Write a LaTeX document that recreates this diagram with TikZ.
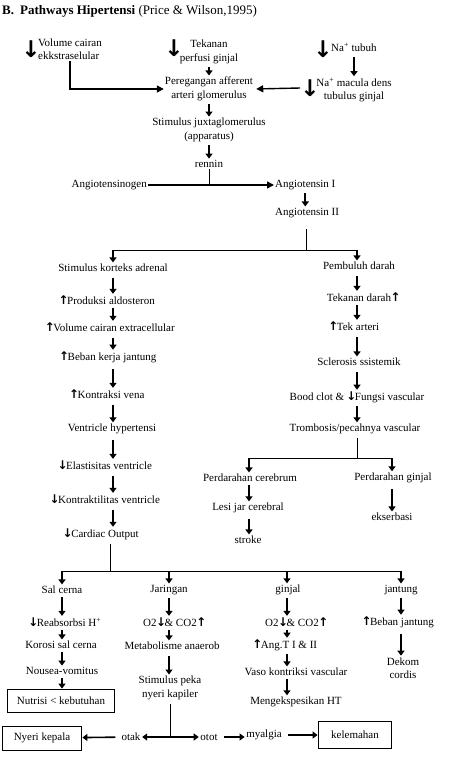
\documentclass[tikz,border=0pt]{standalone}
\usepackage{fontspec}
\setmainfont{Liberation Serif}
\newfontfamily\panahfont{DejaVu Sans}
\usetikzlibrary{arrows.meta,positioning}

\newcommand{\teks}{\fontsize{11}{13.5}\selectfont}
\newcommand{\panahbesar}{\panahfont\bfseries\fontsize{23}{23}\selectfont}
\newcommand{\naik}{{\panahfont\bfseries\fontsize{12}{12}\selectfont\kern-0.5pt↑\kern-1.5pt}}
\newcommand{\turun}{{\panahfont\bfseries\fontsize{12}{12}\selectfont\kern-0.5pt↓\kern-1.5pt}}

\begin{document}
\begin{tikzpicture}[x=1pt,y=1pt,yscale=-1,
  lbl/.style={font=\teks, inner sep=1pt, align=center},
  kotak/.style={lbl, draw, line width=0.8pt},
  panah/.style={font=\panahbesar, inner sep=0pt},
  arr/.style={line width=1.6pt, -{Triangle[length=5pt,width=7pt]}, shorten <=5pt, shorten >=0.5pt},
  dekat/.style={shorten <=2pt},
  conn/.style={line width=1.4pt, -{Triangle[length=7pt,width=7pt]}},
  garis/.style={line width=0.9pt}]

\useasboundingbox (0,0) rectangle (455,760);

\node[anchor=west, inner sep=0pt, font=\fontsize{13}{15}\selectfont] (judul) at (2,11) {\textbf{B.\hspace{6pt}Pathways Hipertensi} (Price \& Wilson,1995)};

\node[lbl, anchor=west, align=left] (vol) at (37,49) {Volume cairan\\ekkstraselular};
\node[panah] (pvol) at (31,49) {↓};
\node[lbl] (tek) at (209,52) {Tekanan\\perfusi ginjal};
\node[panah] (ptek) at (174,48) {↓};
\node[lbl, anchor=west] (natubuh) at (330,47) {Na\textsuperscript{+} tubuh};
\node[panah] (pna) at (323,49) {↓};
\node[lbl] (namac) at (354,90) {Na\textsuperscript{+} macula dens\\tubulus ginjal};
\node[panah] (pmac) at (310,88) {↓};
\node[lbl] (pereg) at (209,89) {Peregangan afferent\\arteri glomerulus};
\node[lbl] (stim) at (209,130) {Stimulus juxtaglomerulus\\(apparatus)};
\node[lbl] (rennin) at (209,164) {rennin};
\node[lbl, anchor=east] (angen) at (148,185) {Angiotensinogen};
\node[lbl, anchor=west] (ang1) at (274,185) {Angiotensin I};
\node[lbl, anchor=west] (ang2) at (274,213) {Angiotensin II};

\draw[conn] (vol.south) |- (pereg.west);
\draw[arr, dekat] (tek) -- (pereg);
\draw[arr] (natubuh.south -| namac.north) -- (namac.north);
\draw[conn, shorten >=2pt] (pmac.west) -- (pereg.east);
\draw[arr, dekat] (pereg) -- (stim);
\draw[arr, dekat] (stim) -- (rennin);
\draw[conn] (angen) -- (ang1);
\draw[garis] (rennin.south) -- (rennin.south |- angen.east);
\draw[arr, dekat] (ang1.south) -- (ang1.south |- ang2.north);

\coordinate (c1) at (306,250);
\coordinate (c1L) at (113,250);
\coordinate (c1R) at (357,250);
\coordinate (kolL) at (113,0);
\coordinate (kolR) at (357,0);

\node[lbl] (adrenal) at (113,268) {Stimulus korteks adrenal};
\node[lbl] (aldo) at (107,300) {\naik Produksi aldosteron};
\node[lbl] (volext) at (110,327) {\naik Volume cairan extracellular};
\node[lbl] (beban) at (108,357) {\naik Beban kerja jantung};
\node[lbl] (vena) at (107,394) {\naik Kontraksi vena};
\node[lbl] (ventr) at (112,429) {Ventricle hypertensi};
\node[lbl] (elast) at (105,465) {\turun Elastisitas ventricle};
\node[lbl] (kontr) at (105,499) {\turun Kontraktilitas ventricle};
\node[lbl] (co) at (101,534) {\turun Cardiac Output};

\node[lbl] (pembuluh) at (359,266) {Pembuluh darah};
\node[lbl] (tekdarah) at (363,297) {Tekanan darah\naik};
\node[lbl] (tekart) at (354,326) {\naik Tek arteri};
\node[lbl] (scler) at (359,362) {Sclerosis ssistemik};
\node[lbl] (clot) at (357,397) {Bood clot \& \turun Fungsi vascular};
\node[lbl] (tromb) at (355,429) {Trombosis/pecahnya vascular};

\draw[garis, shorten <=10pt] (ang2.south -| c1) -- (c1);
\draw[garis] (c1L) -- (c1R);
\draw[arr, shorten <=0pt] (c1L) -- (c1L |- adrenal.north);
\draw[arr, shorten <=0pt] (c1R) -- (c1R |- pembuluh.north);

\draw[arr] (adrenal.south -| kolL) -- (aldo.north -| kolL);
\draw[arr, dekat] (aldo.south -| kolL) -- (volext.north -| kolL);
\draw[arr] (volext.south -| kolL) -- (beban.north -| kolL);
\draw[arr] (beban.south -| kolL) -- (vena.north -| kolL);
\draw[arr] (vena.south -| kolL) -- (ventr.north -| kolL);
\draw[arr] (ventr.south -| kolL) -- (elast.north -| kolL);
\draw[arr] (elast.south -| kolL) -- (kontr.north -| kolL);
\draw[arr] (kontr.south -| kolL) -- (co.north -| kolL);

\draw[arr] (pembuluh.south -| kolR) -- (tekdarah.north -| kolR);
\draw[arr, dekat] (tekdarah.south -| kolR) -- (tekart.north -| kolR);
\draw[arr] (tekart.south -| kolR) -- (scler.north -| kolR);
\draw[arr] (scler.south -| kolR) -- (clot.north -| kolR);
\draw[arr, dekat] (clot.south -| kolR) -- (tromb.north -| kolR);

\coordinate (c2) at (357,458);
\coordinate (c2L) at (249,458);
\coordinate (c2R) at (392,458);

\node[lbl] (cereb) at (250,478) {Perdarahan cerebrum};
\node[lbl] (pgin) at (393,478) {Perdarahan ginjal};
\node[lbl] (lesi) at (248,508) {Lesi jar cerebral};
\node[lbl] (stroke) at (248,540) {stroke};
\node[lbl] (eks) at (392,517) {ekserbasi};

\draw[garis, shorten <=3pt] (tromb.south -| c2) -- (c2);
\draw[garis] (c2L) -- (c2R);
\draw[arr, shorten <=0pt] (c2L) -- (c2L |- cereb.north);
\draw[arr, shorten <=0pt] (c2R) -- (c2R |- pgin.north);
\draw[arr, dekat] (cereb.south -| c2L) -- (lesi.north -| c2L);
\draw[arr] (lesi.south -| c2L) -- (stroke.north -| c2L);
\draw[arr] (pgin.south -| c2R) -- (eks.north -| c2R);

\coordinate (c3) at (110,571);
\coordinate (c3A) at (62,571);
\coordinate (c3B) at (169,571);
\coordinate (c3C) at (287,571);
\coordinate (c3D) at (401,571);

\node[lbl] (salc) at (62,590) {Sal cerna};
\node[lbl] (reab) at (65,622) {\turun Reabsorbsi H\textsuperscript{+}};
\node[lbl] (korosi) at (61,645) {Korosi sal cerna};
\node[lbl] (nousea) at (62,671) {Nousea-vomitus};
\node[kotak, minimum width=107pt, minimum height=23pt] (nutrisi) at (61,701) {Nutrisi < kebutuhan};

\node[lbl] (jar) at (169,590) {Jaringan};
\node[lbl] (o2a) at (174,622) {O2\turun\& CO2\naik};
\node[lbl] (meta) at (172,646) {Metabolisme anaerob};
\node[lbl] (peka) at (170,688) {Stimulus peka\\nyeri kapiler};

\node[lbl] (ginj) at (288,590) {ginjal};
\node[lbl] (o2b) at (296,622) {O2\turun\& CO2\naik};
\node[lbl] (angt) at (285,645) {\naik Ang.T I \& II};
\node[lbl] (vaso) at (296,672) {Vaso kontriksi vascular};
\node[lbl] (meng) at (296,702) {Mengekspesikan HT};

\node[lbl] (jant) at (401,590) {jantung};
\node[lbl] (bebanj) at (398,622) {\naik Beban jantung};
\node[lbl] (dekom) at (403,668) {Dekom\\cordis};

\draw[garis, shorten <=3pt] (co.south -| c3) -- (c3);
\draw[garis] (c3A) -- (c3D);
\draw[arr, shorten <=0pt] (c3A) -- (c3A |- salc.north);
\draw[arr, shorten <=0pt] (c3B) -- (c3B |- jar.north);
\draw[arr, shorten <=0pt] (c3C) -- (c3C |- ginj.north);
\draw[arr, shorten <=0pt] (c3D) -- (c3D |- jant.north);

\draw[arr, dekat] (salc.south -| c3A) -- (reab.north -| c3A);
\draw[arr, dekat] (reab.south -| c3A) -- (korosi.north -| c3A);
\draw[arr, dekat] (korosi.south -| c3A) -- (nousea.north -| c3A);
\draw[arr, dekat] (nousea.south -| c3A) -- (nutrisi.north -| c3A);

\draw[arr, dekat] (jar.south -| c3B) -- (o2a.north -| c3B);
\draw[arr, dekat] (o2a.south -| c3B) -- (meta.north -| c3B);
\draw[arr] (meta.south -| c3B) -- (peka.north -| c3B);

\draw[arr, dekat] (ginj.south -| c3C) -- (o2b.north -| c3C);
\draw[arr, dekat] (o2b.south -| c3C) -- (angt.north -| c3C);
\draw[arr, dekat] (angt.south -| c3C) -- (vaso.north -| c3C);
\draw[arr, dekat] (vaso.south -| c3C) -- (meng.north -| c3C);

\draw[arr, dekat] (jant.south -| c3D) -- (bebanj.north -| c3D);
\draw[arr] (bebanj.south -| c3D) -- (dekom.north -| c3D);

\coordinate (c4) at (170,737);

\node[kotak, minimum width=79pt, minimum height=24pt] (nyeri) at (42,738) {Nyeri kepala};
\node[lbl] (otak) at (131,737) {otak};
\node[lbl] (otot) at (209,737) {otot};
\node[lbl] (myalgia) at (264,735) {myalgia};
\node[kotak, minimum width=73pt, minimum height=27pt] (kelem) at (355,735) {kelemahan};

\draw[garis, shorten <=3pt] (peka.south) -- (c4);
\draw[arr, shorten <=0pt] (c4) -- (otak.east);
\draw[arr, shorten <=0pt] (c4) -- (otot.west);
\draw[arr] (otak) -- (nyeri);
\draw[arr] (otot.east) -- (otot.east -| myalgia.west);
\draw[arr] (myalgia.east) -- (myalgia.east -| kelem.west);

\end{tikzpicture}
\end{document}
